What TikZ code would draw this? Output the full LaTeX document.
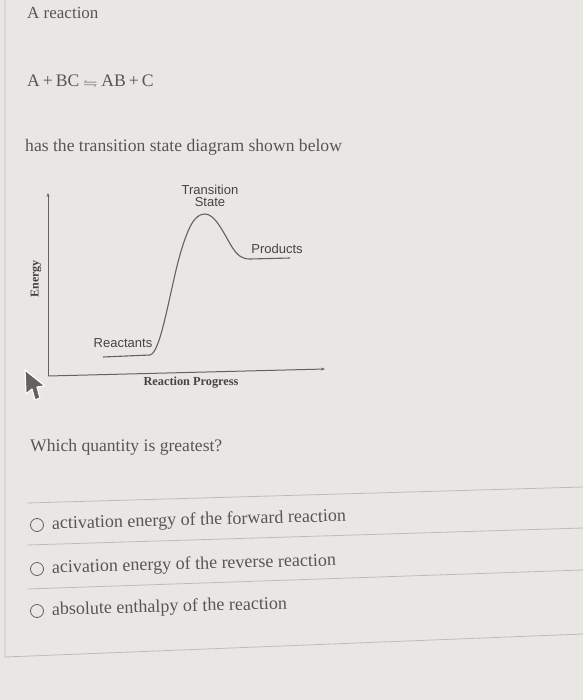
\documentclass[tikz,border=0pt]{standalone}
\usepackage{amssymb}
\usepackage{fontspec}
\setmainfont{Liberation Serif}
\newfontfamily\labsans{Liberation Sans}
\usetikzlibrary{arrows.meta}
\definecolor{bgc}{RGB}{233,231,227}
\definecolor{txt}{RGB}{88,86,84}
\definecolor{labc}{RGB}{70,68,66}
\definecolor{rule}{RGB}{190,188,184}
\definecolor{axis}{RGB}{100,98,96}
\tikzset{
  body/.style={anchor=base west, inner sep=0pt, text=txt, font=\fontsize{17.6}{20}\selectfont},
  opt/.style={anchor=base west, inner sep=0pt, text=txt, font=\fontsize{18}{20}\selectfont, rotate=1.5},
  lab/.style={inner sep=0pt, text=labc, font=\labsans\fontsize{13}{14}\selectfont, align=center},
  radio/.style={circle, draw=axis, line width=0.8pt, minimum size=13pt, inner sep=0pt},
  sep/.style={draw=rule, line width=0.8pt},
  ax/.style={draw=axis, line width=1pt, -{Stealth[length=4pt,width=3pt]}},
  curve/.style={draw=axis, line width=1.1pt}
}
\begin{document}
\begin{tikzpicture}[x=1pt,y=-1pt]
\fill[bgc] (0,0) rectangle (583,700);
\useasboundingbox (0,0) rectangle (583,700);
% frame
\draw[rule, line width=0.8pt] (5,0) -- (5,657) -- (583,634);
% top text
\node[body, font=\fontsize{17}{20}\selectfont] (t1) at (27,19) {A reaction};
\node[body] (t2) at (27,87) {A\kern3pt+\kern3ptBC\kern4pt\raisebox{-1pt}{\scalebox{0.8}{$\leftrightharpoons$}}\kern4ptAB\kern3pt+\kern3ptC};
\node[body] (t3) at (25,152) {has the transition state diagram shown below};
% diagram axes
\coordinate (o) at (48,376);
\coordinate (ytop) at (48,193);
\coordinate (xend) at (325,369);
\draw[ax] (o) -- (ytop);
\draw[ax] (o) -- (xend);
% curve
\draw[curve] (103,357) -- (150,355) .. controls (160,353) and (168,302) .. (178,262)
  .. controls (188,225) and (195,214) .. (205,214)
  .. controls (215,214) and (223,232) .. (232,247)
  .. controls (238,256) and (242,259) .. (250,259) -- (290,258);
% labels
\node[lab] (ts) at (210,196) {Transition\\[-2pt]State};
\node[lab] (pr) at (277,249) {Products};
\node[lab] (re) at (123,343) {Reactants};
\node[inner sep=0pt, text=labc, font=\fontsize{12.3}{13}\selectfont\bfseries] (rp) at (191,383) {Reaction Progress};
\node[inner sep=0pt, text=labc, font=\fontsize{12}{13}\selectfont\bfseries, rotate=90] (en) at (36,279) {Energy};
% cursor
\draw[white, line width=1.2pt, fill=axis, line join=round] (25,370) -- (45,386) -- (37,387) -- (40,398) -- (35,400) -- (32,389) -- (26,394) -- cycle;
% question
\node[body] (q) at (30,451) {Which quantity is greatest?};
% separators
\draw[sep] (27,503) -- (583,487);
\draw[sep] (27,545) -- (583,528);
\draw[sep] (27,589) -- (583,570);
% options
\node[radio] (r1) at (37,525) {};
\node[opt] (o1) at (52,529) {activation energy of the forward reaction};
\node[radio] (r2) at (37,569) {};
\node[opt] (o2) at (52,573) {acivation energy of the reverse reaction};
\node[radio] (r3) at (37,611) {};
\node[opt] (o3) at (52,615) {absolute enthalpy of the reaction};
\end{tikzpicture}
\end{document}
